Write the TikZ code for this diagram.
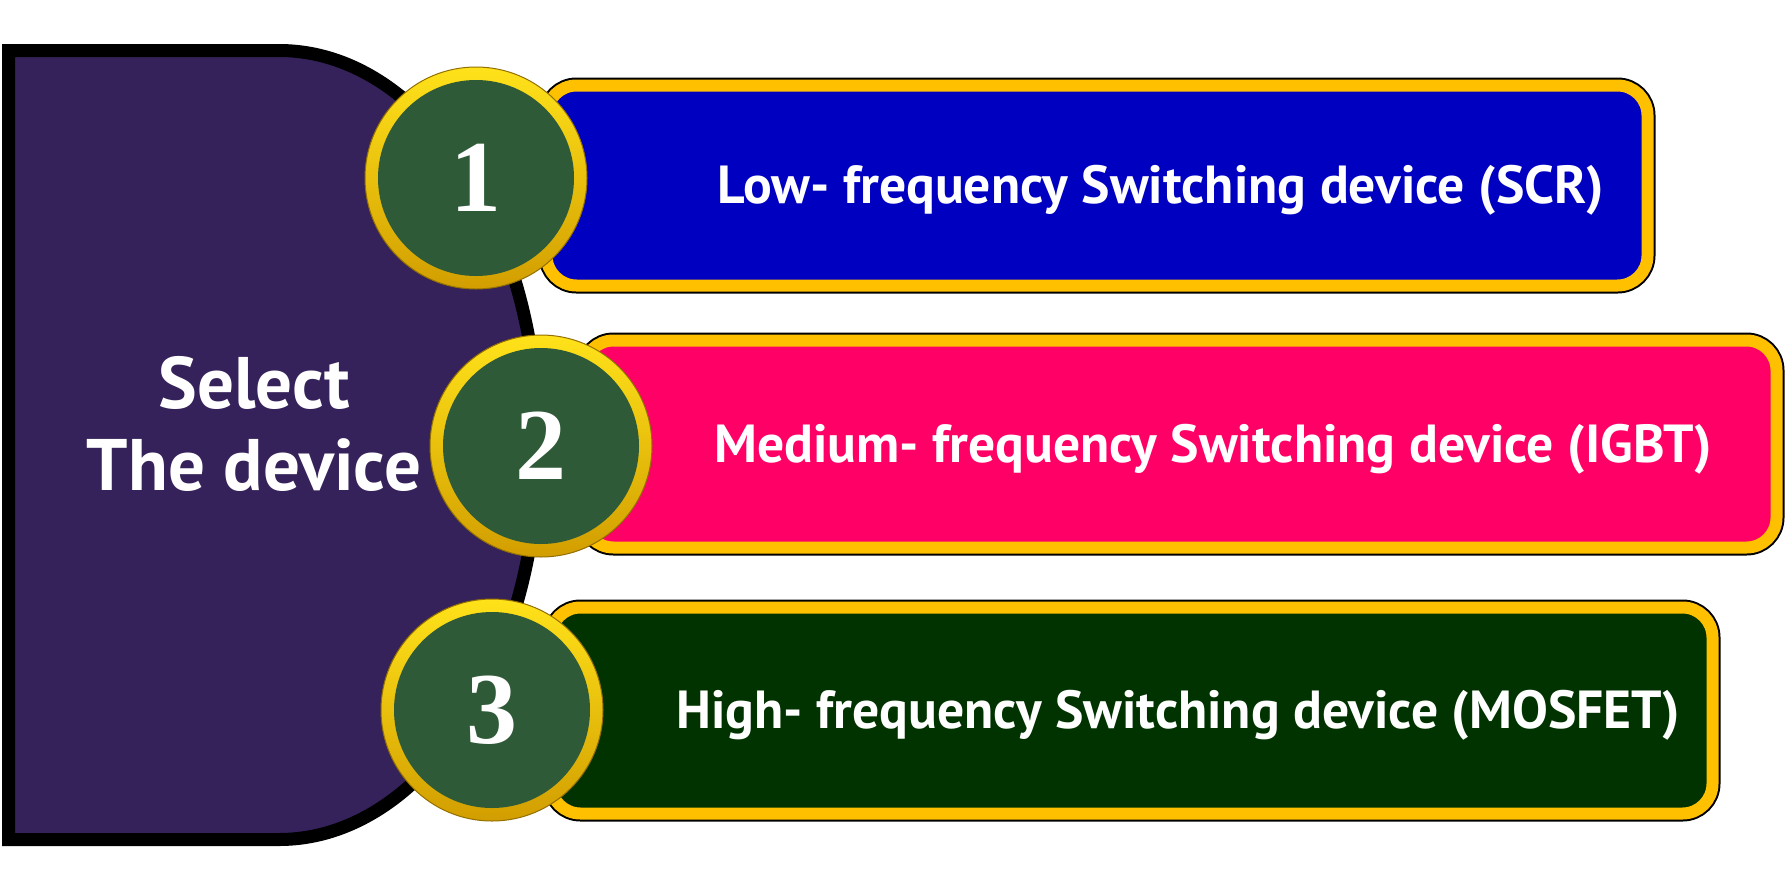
\documentclass[tikz,border=0pt]{standalone}
\usepackage{fontspec}
\setmainfont{PT Sans}
\newfontfamily\numfont{Liberation Serif}
\usetikzlibrary{positioning}

\definecolor{selpurple}{HTML}{35225A}
\definecolor{lowblue}{HTML}{0000C0}
\definecolor{midpink}{HTML}{FF0066}
\definecolor{highgreen}{HTML}{003300}
\definecolor{rimgold}{HTML}{FFC000}
\definecolor{ringhi}{HTML}{FFE21A}
\definecolor{ringlo}{HTML}{D29E00}
\definecolor{discgreen}{HTML}{2E5A37}

\tikzset{
  devbox/.style={rectangle, rounded corners=15pt, fill=#1, draw=rimgold, line width=6pt,
    preaction={draw=black, line width=8pt}, inner sep=0pt, outer sep=0pt},
  devtext/.style={text=white, font=\bfseries\fontsize{26.8}{30}\selectfont, inner sep=0pt, anchor=base},
  numdisc/.style={circle, minimum size=111pt, inner sep=0pt, draw=ringlo!70!black, line width=0.5pt,
    top color=ringhi, bottom color=ringlo,
    path picture={\fill[discgreen] (path picture bounding box.center) circle (49pt);},
    text=white, font=\numfont\bfseries\fontsize{51}{51}\selectfont},
}

\begin{document}
\begin{tikzpicture}[x=0.5pt, y=-0.5pt]
\path[use as bounding box] (0,0) rectangle (1787,889);

% left panel
\draw [draw=black, line width=6.5pt, fill=selpurple]
  (8.5,50.5) -- (279,50.5) arc [start angle=-90, end angle=90, x radius=259.5, y radius=394.5]
  -- (8.5,839.5) -- cycle;
\node [text=white, align=center, font=\bfseries\fontsize{36.5}{41}\selectfont] (sel) at (254,424) {Select\\The device};

% device boxes
\node [devbox=lowblue, minimum width=550.5pt, minimum height=100pt] (low) at (1097,185.5) {};
\node [devbox=midpink, minimum width=596.5pt, minimum height=103.5pt] (mid) at (1180,444) {};
\node [devbox=highgreen, minimum width=581pt, minimum height=103pt] (high) at (1131.5,710.5) {};

\node [devtext] (lowtxt) at ([xshift=32pt, yshift=-9pt]low.center) {Low- frequency Switching device (SCR)};
\node [devtext] (midtxt) at ([xshift=16.5pt, yshift=-9pt]mid.center) {Medium- frequency Switching device (IGBT)};
\node [devtext] (hightxt) at ([xshift=23.5pt, yshift=-9pt]high.center) {High- frequency Switching device (MOSFET)};

% numbers
\node [numdisc] (n1) at (476,178) {1};
\node [numdisc] (n2) at (541,446) {2};
\node [numdisc] (n3) at (492,710) {3};

\end{tikzpicture}
\end{document}
